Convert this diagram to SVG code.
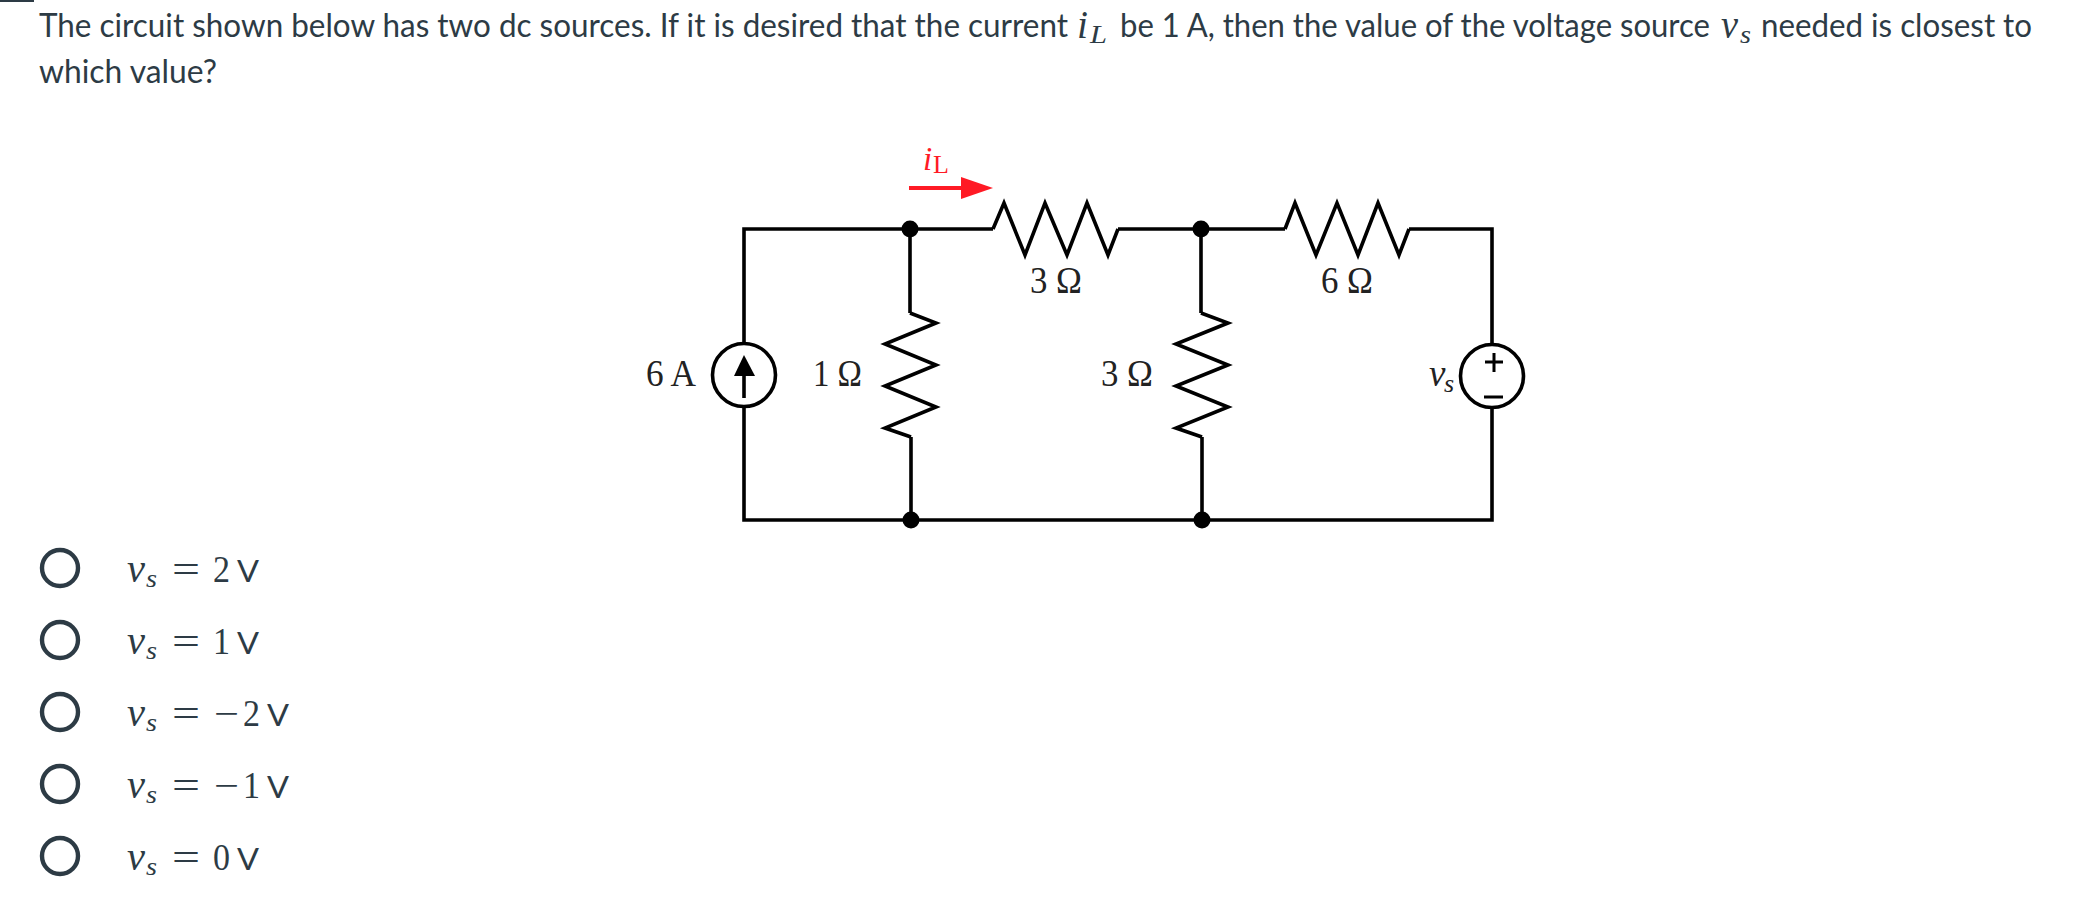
<svg xmlns="http://www.w3.org/2000/svg" width="2090" height="904" viewBox="0 0 2090 904">
<style>
.q{font-family:"Lato","Liberation Sans",sans-serif;font-size:33px;fill:#2d3b45}
.v{font-family:"Lato","Liberation Sans",sans-serif;font-size:31px;fill:#2d3b45}
.m{font-family:"Liberation Serif","DejaVu Serif",serif;font-size:37px;fill:#2d3b45}
.mi{font-family:"Liberation Serif","DejaVu Serif",serif;font-style:italic;font-size:40px;fill:#2d3b45}
.ms{font-family:"Liberation Serif","DejaVu Serif",serif;font-style:italic;font-size:26px;fill:#2d3b45}
.c{font-family:"Liberation Serif","DejaVu Serif",serif;font-size:37px;fill:#222}
.w{fill:none;stroke:#000;stroke-width:3.6;stroke-linejoin:miter}
.r{fill:none;stroke:#2d3b45;stroke-width:4.4}
.j{fill:#000}
</style>
<rect width="2090" height="904" fill="#fff"/>
<rect x="0" y="0" width="34" height="2" fill="#2d3b45"/>
<g id="question">
<text class="q" x="39" y="37" textLength="1029" lengthAdjust="spacingAndGlyphs">The circuit shown below has two dc sources. If it is desired that the current</text>
<text class="mi" x="1077" y="38" textLength="11" lengthAdjust="spacingAndGlyphs">i</text>
<text class="ms" x="1090" y="43" textLength="17" lengthAdjust="spacingAndGlyphs">L</text>
<text class="q" x="1120" y="37" textLength="590" lengthAdjust="spacingAndGlyphs">be 1 A, then the value of the voltage source</text>
<text class="mi" x="1721" y="38" textLength="17" lengthAdjust="spacingAndGlyphs">v</text>
<text class="ms" x="1740" y="43" textLength="11" lengthAdjust="spacingAndGlyphs">s</text>
<text class="q" x="1761" y="37" textLength="271" lengthAdjust="spacingAndGlyphs">needed is closest to</text>
<text class="q" x="39" y="83" textLength="178" lengthAdjust="spacingAndGlyphs">which value?</text>
</g>
<g id="connectors">
<path class="w" d="M744 344V229H993M1118 229H1285M1409 229H1492V344M1492 408V520H744V407M910 229V313M911 437V520M1201 229V313M1202 437V520"/>
</g>
<g id="r1-1ohm"><path class="w" d="M910 313L936 323L885 344L936 365L885 386L936 407L885 428L911 437"/><text class="c" x="813" y="386" textLength="49" lengthAdjust="spacingAndGlyphs" xml:space="preserve">1 Ω</text></g>
<g id="r2-3ohm"><path class="w" d="M993 229L1004 203L1025 255L1045 203L1067 255L1087 203L1108 255L1118 229"/><text class="c" x="1030" y="293" textLength="52" lengthAdjust="spacingAndGlyphs" xml:space="preserve">3 Ω</text></g>
<g id="r3-3ohm"><path class="w" d="M1201 313L1228 323L1176 344L1228 365L1176 386L1228 407L1176 428L1202 437"/><text class="c" x="1101" y="386" textLength="52" lengthAdjust="spacingAndGlyphs" xml:space="preserve">3 Ω</text></g>
<g id="r4-6ohm"><path class="w" d="M1285 229L1295 203L1316 255L1337 203L1358 255L1378 203L1399 255L1409 229"/><text class="c" x="1321" y="293" textLength="52" lengthAdjust="spacingAndGlyphs" xml:space="preserve">6 Ω</text></g>
<g id="isource"><circle class="w" cx="744" cy="375" r="31.5"/><path d="M744 355L755 376H734Z" fill="#000"/><path class="w" d="M744 376V398"/><text class="c" x="646" y="386" textLength="50" lengthAdjust="spacingAndGlyphs" xml:space="preserve">6 A</text></g>
<g id="vsource"><circle class="w" cx="1492" cy="376" r="31.5"/><path d="M1485 362H1503M1494 353V372M1484 397H1503" fill="none" stroke="#000" stroke-width="3"/><text class="c" x="1429" y="386" font-style="italic">v</text><text class="c" x="1444" y="392" font-style="italic" style="font-size:26px">s</text></g>
<g id="junctions"><circle class="j" cx="910" cy="229" r="8.5"/><circle class="j" cx="1201" cy="229" r="8.5"/><circle class="j" cx="911" cy="520" r="8.5"/><circle class="j" cx="1202" cy="520" r="8.5"/></g>
<g id="current-label"><path d="M909 188H965" stroke="#ff1a25" stroke-width="4" fill="none"/><path d="M961 177L993 188L961 199Z" fill="#ff1a25"/><text x="923" y="170" fill="#ff1a25" font-family="Liberation Serif" font-style="italic" font-size="33">i</text><text x="933" y="173" fill="#ff1a25" font-family="Liberation Serif" font-size="26">L</text></g>
<g id="opt1"><circle class="r" cx="60" cy="568" r="18"/><text class="mi" x="127" y="582" textLength="18" lengthAdjust="spacingAndGlyphs">v</text><text class="ms" x="146" y="587" textLength="11" lengthAdjust="spacingAndGlyphs">s</text><text class="m" x="172" y="582" textLength="28" lengthAdjust="spacingAndGlyphs">=</text><text class="m" x="213" y="582" textLength="17" lengthAdjust="spacingAndGlyphs">2</text><text class="v" x="237" y="582" textLength="22" lengthAdjust="spacingAndGlyphs">V</text></g>
<g id="opt2"><circle class="r" cx="60" cy="640" r="18"/><text class="mi" x="127" y="654" textLength="18" lengthAdjust="spacingAndGlyphs">v</text><text class="ms" x="146" y="659" textLength="11" lengthAdjust="spacingAndGlyphs">s</text><text class="m" x="172" y="654" textLength="28" lengthAdjust="spacingAndGlyphs">=</text><text class="m" x="213" y="654" textLength="17" lengthAdjust="spacingAndGlyphs">1</text><text class="v" x="237" y="654" textLength="22" lengthAdjust="spacingAndGlyphs">V</text></g>
<g id="opt3"><circle class="r" cx="60" cy="712" r="18"/><text class="mi" x="127" y="726" textLength="18" lengthAdjust="spacingAndGlyphs">v</text><text class="ms" x="146" y="731" textLength="11" lengthAdjust="spacingAndGlyphs">s</text><text class="m" x="172" y="726" textLength="28" lengthAdjust="spacingAndGlyphs">=</text><text class="m" x="214" y="726" textLength="25" lengthAdjust="spacingAndGlyphs">−</text><text class="m" x="243" y="726" textLength="17" lengthAdjust="spacingAndGlyphs">2</text><text class="v" x="267" y="726" textLength="22" lengthAdjust="spacingAndGlyphs">V</text></g>
<g id="opt4"><circle class="r" cx="60" cy="784" r="18"/><text class="mi" x="127" y="798" textLength="18" lengthAdjust="spacingAndGlyphs">v</text><text class="ms" x="146" y="803" textLength="11" lengthAdjust="spacingAndGlyphs">s</text><text class="m" x="172" y="798" textLength="28" lengthAdjust="spacingAndGlyphs">=</text><text class="m" x="214" y="798" textLength="25" lengthAdjust="spacingAndGlyphs">−</text><text class="m" x="243" y="798" textLength="17" lengthAdjust="spacingAndGlyphs">1</text><text class="v" x="267" y="798" textLength="22" lengthAdjust="spacingAndGlyphs">V</text></g>
<g id="opt5"><circle class="r" cx="60" cy="856" r="18"/><text class="mi" x="127" y="870" textLength="18" lengthAdjust="spacingAndGlyphs">v</text><text class="ms" x="146" y="875" textLength="11" lengthAdjust="spacingAndGlyphs">s</text><text class="m" x="172" y="870" textLength="28" lengthAdjust="spacingAndGlyphs">=</text><text class="m" x="213" y="870" textLength="17" lengthAdjust="spacingAndGlyphs">0</text><text class="v" x="237" y="870" textLength="22" lengthAdjust="spacingAndGlyphs">V</text></g>
</svg>
